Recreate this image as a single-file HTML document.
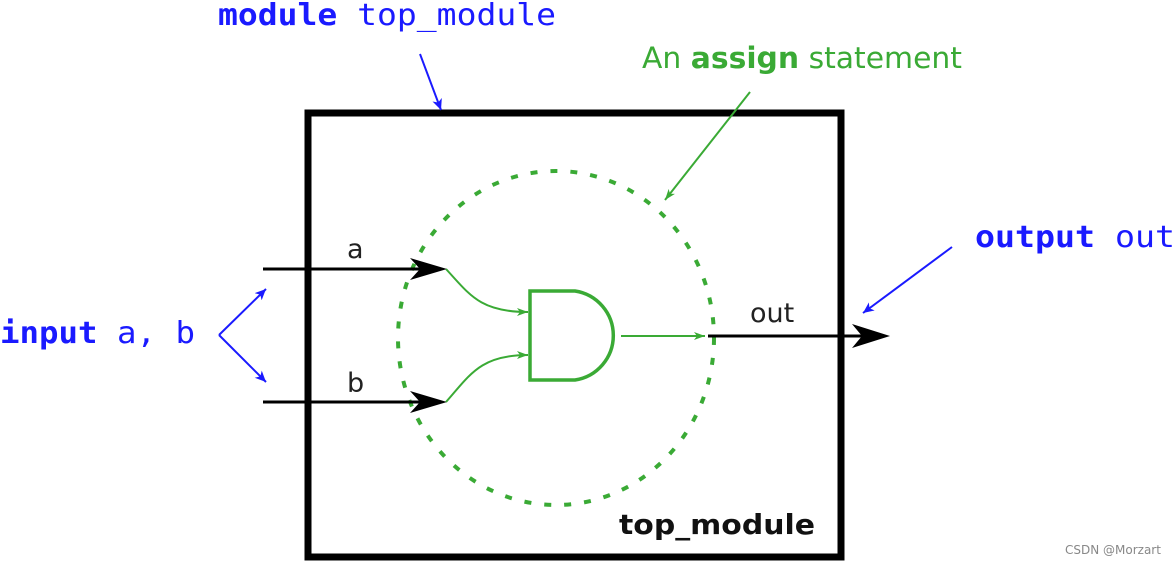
<!DOCTYPE html>
<html><head><meta charset="utf-8"><style>
body{margin:0;background:#fff;width:1172px;height:563px;overflow:hidden}
</style></head><body>
<svg width="1172" height="563" viewBox="0 0 1172 563" xmlns="http://www.w3.org/2000/svg">
<defs>
<marker id="bl" markerWidth="12" markerHeight="10" refX="11" refY="5" orient="auto" markerUnits="userSpaceOnUse"><path d="M0,0 L11,5 L0,10 L3,5 Z" fill="#1a1aff"/></marker>
<marker id="gr" markerWidth="12" markerHeight="10" refX="11" refY="5" orient="auto" markerUnits="userSpaceOnUse"><path d="M0,1 L11,5 L0,9 L3,5 Z" fill="#3aaa35"/></marker>
</defs>
<rect x="308" y="113" width="533" height="444" fill="none" stroke="#000" stroke-width="7"/>
<ellipse cx="556" cy="338" rx="158" ry="167" fill="none" stroke="#3aaa35" stroke-width="4" stroke-dasharray="7,13"/>
<line x1="263" y1="269" x2="420" y2="269" stroke="#000" stroke-width="3"/>
<path d="M410,258 L447,269 L410,280 L420,269 Z" fill="#000"/>
<line x1="263" y1="402" x2="420" y2="402" stroke="#000" stroke-width="3"/>
<path d="M410,391 L447,402 L410,413 L420,402 Z" fill="#000"/>
<path d="M446,269 C470,295 480,312 528,312" fill="none" stroke="#3aaa35" stroke-width="2" marker-end="url(#gr)"/>
<path d="M446,402 C470,375 480,355 528,355" fill="none" stroke="#3aaa35" stroke-width="2" marker-end="url(#gr)"/>
<path d="M530,291 L575,291 A45,45 0 0 1 575,380 L530,380 Z" fill="none" stroke="#3aaa35" stroke-width="3.5"/>
<line x1="621" y1="336" x2="705" y2="336" stroke="#3aaa35" stroke-width="2" marker-end="url(#gr)"/>
<line x1="708" y1="336" x2="870" y2="336" stroke="#000" stroke-width="3"/>
<path d="M852,324 L890,336 L852,348 L862,336 Z" fill="#000"/>
<line x1="420" y1="54" x2="441" y2="110" stroke="#1a1aff" stroke-width="2" marker-end="url(#bl)"/>
<line x1="750" y1="92" x2="665" y2="200" stroke="#3aaa35" stroke-width="2" marker-end="url(#gr)"/>
<line x1="952" y1="247" x2="863" y2="313" stroke="#1a1aff" stroke-width="2" marker-end="url(#bl)"/>
<line x1="219" y1="335" x2="266" y2="289" stroke="#1a1aff" stroke-width="2" marker-end="url(#bl)"/>
<line x1="219" y1="335" x2="266" y2="382" stroke="#1a1aff" stroke-width="2" marker-end="url(#bl)"/>
<g font-family="DejaVu Sans Mono, Liberation Mono, monospace" font-size="30" fill="#1a1aff">
<text x="218" y="25" textLength="338" lengthAdjust="spacingAndGlyphs"><tspan font-weight="bold">module</tspan> top_module</text>
<text x="0" y="343" textLength="195" lengthAdjust="spacingAndGlyphs"><tspan font-weight="bold">input</tspan> a, b</text>
<text x="975" y="247" textLength="200" lengthAdjust="spacingAndGlyphs"><tspan font-weight="bold">output</tspan> out</text>
</g>
<g font-family="DejaVu Sans, Liberation Sans, sans-serif">
<text x="642" y="68" font-size="29" fill="#3aaa35" textLength="320" lengthAdjust="spacingAndGlyphs">An <tspan font-weight="bold">assign</tspan> statement</text>
<text x="347" y="258" font-size="27" fill="#222">a</text>
<text x="347" y="392" font-size="27" fill="#222">b</text>
<text x="750" y="322" font-size="27" fill="#222">out</text>
<text x="619" y="534" font-size="28" font-weight="bold" fill="#111" textLength="196" lengthAdjust="spacingAndGlyphs">top_module</text>
<text x="1065" y="554" font-size="12" fill="#888">CSDN @Morzart</text>
</g>
</svg>
</body></html>
